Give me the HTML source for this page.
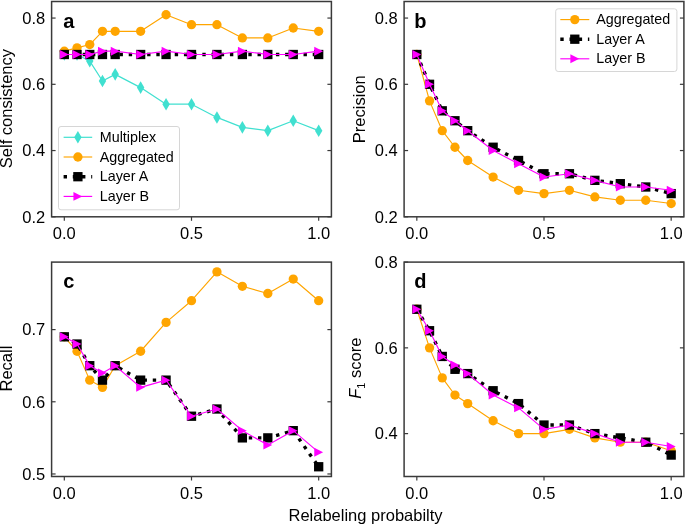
<!DOCTYPE html>
<html><head><meta charset="utf-8"><style>
html,body{margin:0;padding:0;background:#fff;}
svg{display:block;will-change:transform;}
</style></head><body>
<svg width="685" height="525" viewBox="0 0 685 525">
<rect width="685" height="525" fill="#fff"/>
<g>
<clipPath id="clipa"><rect x="51.60" y="1.50" width="279.80" height="215.30"/></clipPath>
<g clip-path="url(#clipa)">
<polyline points="64.32,54.50 77.04,54.50 89.75,61.12 102.47,81.00 115.19,74.37 140.63,87.62 166.06,104.18 191.50,104.18 216.94,117.43 242.37,127.37 267.81,130.68 293.25,120.74 318.68,130.68" fill="none" stroke="#40E0D0" stroke-width="1.2" stroke-linejoin="round"/>
<path d="M64.32,48.20 L68.02,54.50 L64.32,60.80 L60.62,54.50 Z" fill="#40E0D0"/>
<path d="M77.04,48.20 L80.74,54.50 L77.04,60.80 L73.34,54.50 Z" fill="#40E0D0"/>
<path d="M89.75,54.82 L93.45,61.12 L89.75,67.42 L86.05,61.12 Z" fill="#40E0D0"/>
<path d="M102.47,74.70 L106.17,81.00 L102.47,87.30 L98.77,81.00 Z" fill="#40E0D0"/>
<path d="M115.19,68.07 L118.89,74.37 L115.19,80.67 L111.49,74.37 Z" fill="#40E0D0"/>
<path d="M140.63,81.32 L144.33,87.62 L140.63,93.92 L136.93,87.62 Z" fill="#40E0D0"/>
<path d="M166.06,97.88 L169.76,104.18 L166.06,110.48 L162.36,104.18 Z" fill="#40E0D0"/>
<path d="M191.50,97.88 L195.20,104.18 L191.50,110.48 L187.80,104.18 Z" fill="#40E0D0"/>
<path d="M216.94,111.13 L220.64,117.43 L216.94,123.73 L213.24,117.43 Z" fill="#40E0D0"/>
<path d="M242.37,121.07 L246.07,127.37 L242.37,133.67 L238.67,127.37 Z" fill="#40E0D0"/>
<path d="M267.81,124.38 L271.51,130.68 L267.81,136.98 L264.11,130.68 Z" fill="#40E0D0"/>
<path d="M293.25,114.44 L296.95,120.74 L293.25,127.04 L289.55,120.74 Z" fill="#40E0D0"/>
<path d="M318.68,124.38 L322.38,130.68 L318.68,136.98 L314.98,130.68 Z" fill="#40E0D0"/>
<polyline points="64.32,51.18 77.04,47.87 89.75,44.56 102.47,31.31 115.19,31.31 140.63,31.31 166.06,14.75 191.50,24.69 216.94,24.69 242.37,37.94 267.81,37.94 293.25,28.00 318.68,31.31" fill="none" stroke="#FFA500" stroke-width="1.15" stroke-linejoin="round"/>
<circle cx="64.32" cy="51.18" r="4.65" fill="#FFA500"/>
<circle cx="77.04" cy="47.87" r="4.65" fill="#FFA500"/>
<circle cx="89.75" cy="44.56" r="4.65" fill="#FFA500"/>
<circle cx="102.47" cy="31.31" r="4.65" fill="#FFA500"/>
<circle cx="115.19" cy="31.31" r="4.65" fill="#FFA500"/>
<circle cx="140.63" cy="31.31" r="4.65" fill="#FFA500"/>
<circle cx="166.06" cy="14.75" r="4.65" fill="#FFA500"/>
<circle cx="191.50" cy="24.69" r="4.65" fill="#FFA500"/>
<circle cx="216.94" cy="24.69" r="4.65" fill="#FFA500"/>
<circle cx="242.37" cy="37.94" r="4.65" fill="#FFA500"/>
<circle cx="267.81" cy="37.94" r="4.65" fill="#FFA500"/>
<circle cx="293.25" cy="28.00" r="4.65" fill="#FFA500"/>
<circle cx="318.68" cy="31.31" r="4.65" fill="#FFA500"/>
<polyline points="64.32,54.50 77.04,54.50 89.75,54.50 102.47,54.50 115.19,54.50 140.63,54.50 166.06,54.50 191.50,54.50 216.94,54.50 242.37,54.50 267.81,54.50 293.25,54.50 318.68,54.50" fill="none" stroke="#000000" stroke-width="3.4" stroke-linejoin="round" stroke-dasharray="3.4 5.8"/>
<rect x="59.67" y="49.85" width="9.30" height="9.30" fill="#000000"/>
<rect x="72.39" y="49.85" width="9.30" height="9.30" fill="#000000"/>
<rect x="85.10" y="49.85" width="9.30" height="9.30" fill="#000000"/>
<rect x="97.82" y="49.85" width="9.30" height="9.30" fill="#000000"/>
<rect x="110.54" y="49.85" width="9.30" height="9.30" fill="#000000"/>
<rect x="135.98" y="49.85" width="9.30" height="9.30" fill="#000000"/>
<rect x="161.41" y="49.85" width="9.30" height="9.30" fill="#000000"/>
<rect x="186.85" y="49.85" width="9.30" height="9.30" fill="#000000"/>
<rect x="212.29" y="49.85" width="9.30" height="9.30" fill="#000000"/>
<rect x="237.72" y="49.85" width="9.30" height="9.30" fill="#000000"/>
<rect x="263.16" y="49.85" width="9.30" height="9.30" fill="#000000"/>
<rect x="288.60" y="49.85" width="9.30" height="9.30" fill="#000000"/>
<rect x="314.03" y="49.85" width="9.30" height="9.30" fill="#000000"/>
<polyline points="64.32,54.50 77.04,54.50 89.75,54.50 102.47,51.18 115.19,51.18 140.63,54.50 166.06,51.18 191.50,54.50 216.94,54.50 242.37,51.18 267.81,54.50 293.25,54.50 318.68,51.18" fill="none" stroke="#FF00FF" stroke-width="1.15" stroke-linejoin="round"/>
<path d="M68.77,54.50 L59.87,50.05 L59.87,58.95 Z" fill="#FF00FF"/>
<path d="M81.49,54.50 L72.59,50.05 L72.59,58.95 Z" fill="#FF00FF"/>
<path d="M94.20,54.50 L85.30,50.05 L85.30,58.95 Z" fill="#FF00FF"/>
<path d="M106.92,51.18 L98.02,46.73 L98.02,55.63 Z" fill="#FF00FF"/>
<path d="M119.64,51.18 L110.74,46.73 L110.74,55.63 Z" fill="#FF00FF"/>
<path d="M145.08,54.50 L136.18,50.05 L136.18,58.95 Z" fill="#FF00FF"/>
<path d="M170.51,51.18 L161.61,46.73 L161.61,55.63 Z" fill="#FF00FF"/>
<path d="M195.95,54.50 L187.05,50.05 L187.05,58.95 Z" fill="#FF00FF"/>
<path d="M221.39,54.50 L212.49,50.05 L212.49,58.95 Z" fill="#FF00FF"/>
<path d="M246.82,51.18 L237.92,46.73 L237.92,55.63 Z" fill="#FF00FF"/>
<path d="M272.26,54.50 L263.36,50.05 L263.36,58.95 Z" fill="#FF00FF"/>
<path d="M297.70,54.50 L288.80,50.05 L288.80,58.95 Z" fill="#FF00FF"/>
<path d="M323.13,51.18 L314.23,46.73 L314.23,55.63 Z" fill="#FF00FF"/>
</g>
<rect x="51.60" y="1.50" width="279.80" height="215.30" fill="none" stroke="#3a3a3a" stroke-width="1.5"/>
<line x1="51.60" y1="216.80" x2="55.60" y2="216.80" stroke="#3a3a3a" stroke-width="1.2"/>
<line x1="331.40" y1="216.80" x2="327.40" y2="216.80" stroke="#3a3a3a" stroke-width="1.2"/>
<text x="45.30" y="222.55" text-anchor="end" style="font-family:'Liberation Sans',sans-serif;font-size:16.5px">0.2</text>
<line x1="51.60" y1="150.55" x2="55.60" y2="150.55" stroke="#3a3a3a" stroke-width="1.2"/>
<line x1="331.40" y1="150.55" x2="327.40" y2="150.55" stroke="#3a3a3a" stroke-width="1.2"/>
<text x="45.30" y="156.30" text-anchor="end" style="font-family:'Liberation Sans',sans-serif;font-size:16.5px">0.4</text>
<line x1="51.60" y1="84.31" x2="55.60" y2="84.31" stroke="#3a3a3a" stroke-width="1.2"/>
<line x1="331.40" y1="84.31" x2="327.40" y2="84.31" stroke="#3a3a3a" stroke-width="1.2"/>
<text x="45.30" y="90.06" text-anchor="end" style="font-family:'Liberation Sans',sans-serif;font-size:16.5px">0.6</text>
<line x1="51.60" y1="18.06" x2="55.60" y2="18.06" stroke="#3a3a3a" stroke-width="1.2"/>
<line x1="331.40" y1="18.06" x2="327.40" y2="18.06" stroke="#3a3a3a" stroke-width="1.2"/>
<text x="45.30" y="23.81" text-anchor="end" style="font-family:'Liberation Sans',sans-serif;font-size:16.5px">0.8</text>
<line x1="64.32" y1="216.80" x2="64.32" y2="220.80" stroke="#3a3a3a" stroke-width="1.2"/>
<text x="64.32" y="239.00" text-anchor="middle" style="font-family:'Liberation Sans',sans-serif;font-size:16.5px">0.0</text>
<line x1="191.50" y1="216.80" x2="191.50" y2="220.80" stroke="#3a3a3a" stroke-width="1.2"/>
<text x="191.50" y="239.00" text-anchor="middle" style="font-family:'Liberation Sans',sans-serif;font-size:16.5px">0.5</text>
<line x1="318.68" y1="216.80" x2="318.68" y2="220.80" stroke="#3a3a3a" stroke-width="1.2"/>
<text x="318.68" y="239.00" text-anchor="middle" style="font-family:'Liberation Sans',sans-serif;font-size:16.5px">1.0</text>
</g>
<g>
<clipPath id="clipb"><rect x="404.10" y="1.50" width="279.80" height="215.30"/></clipPath>
<g clip-path="url(#clipb)">
<polyline points="416.82,54.50 429.54,100.87 442.25,130.68 454.97,147.24 467.69,160.49 493.13,177.05 518.56,190.30 544.00,193.61 569.44,190.30 594.87,196.93 620.31,200.24 645.75,200.24 671.18,203.55" fill="none" stroke="#FFA500" stroke-width="1.15" stroke-linejoin="round"/>
<circle cx="416.82" cy="54.50" r="4.65" fill="#FFA500"/>
<circle cx="429.54" cy="100.87" r="4.65" fill="#FFA500"/>
<circle cx="442.25" cy="130.68" r="4.65" fill="#FFA500"/>
<circle cx="454.97" cy="147.24" r="4.65" fill="#FFA500"/>
<circle cx="467.69" cy="160.49" r="4.65" fill="#FFA500"/>
<circle cx="493.13" cy="177.05" r="4.65" fill="#FFA500"/>
<circle cx="518.56" cy="190.30" r="4.65" fill="#FFA500"/>
<circle cx="544.00" cy="193.61" r="4.65" fill="#FFA500"/>
<circle cx="569.44" cy="190.30" r="4.65" fill="#FFA500"/>
<circle cx="594.87" cy="196.93" r="4.65" fill="#FFA500"/>
<circle cx="620.31" cy="200.24" r="4.65" fill="#FFA500"/>
<circle cx="645.75" cy="200.24" r="4.65" fill="#FFA500"/>
<circle cx="671.18" cy="203.55" r="4.65" fill="#FFA500"/>
<polyline points="416.82,54.50 429.54,84.31 442.25,110.81 454.97,120.74 467.69,130.68 493.13,147.24 518.56,160.49 544.00,173.74 569.44,173.74 594.87,180.36 620.31,183.68 645.75,186.99 671.18,193.61" fill="none" stroke="#000000" stroke-width="3.4" stroke-linejoin="round" stroke-dasharray="3.4 5.8"/>
<rect x="412.17" y="49.85" width="9.30" height="9.30" fill="#000000"/>
<rect x="424.89" y="79.66" width="9.30" height="9.30" fill="#000000"/>
<rect x="437.60" y="106.16" width="9.30" height="9.30" fill="#000000"/>
<rect x="450.32" y="116.09" width="9.30" height="9.30" fill="#000000"/>
<rect x="463.04" y="126.03" width="9.30" height="9.30" fill="#000000"/>
<rect x="488.48" y="142.59" width="9.30" height="9.30" fill="#000000"/>
<rect x="513.91" y="155.84" width="9.30" height="9.30" fill="#000000"/>
<rect x="539.35" y="169.09" width="9.30" height="9.30" fill="#000000"/>
<rect x="564.79" y="169.09" width="9.30" height="9.30" fill="#000000"/>
<rect x="590.22" y="175.71" width="9.30" height="9.30" fill="#000000"/>
<rect x="615.66" y="179.03" width="9.30" height="9.30" fill="#000000"/>
<rect x="641.10" y="182.34" width="9.30" height="9.30" fill="#000000"/>
<rect x="666.53" y="188.96" width="9.30" height="9.30" fill="#000000"/>
<polyline points="416.82,54.50 429.54,84.31 442.25,110.81 454.97,120.74 467.69,130.68 493.13,150.55 518.56,163.80 544.00,177.05 569.44,173.74 594.87,180.36 620.31,186.99 645.75,186.99 671.18,190.30" fill="none" stroke="#FF00FF" stroke-width="1.15" stroke-linejoin="round"/>
<path d="M421.27,54.50 L412.37,50.05 L412.37,58.95 Z" fill="#FF00FF"/>
<path d="M433.99,84.31 L425.09,79.86 L425.09,88.76 Z" fill="#FF00FF"/>
<path d="M446.70,110.81 L437.80,106.36 L437.80,115.26 Z" fill="#FF00FF"/>
<path d="M459.42,120.74 L450.52,116.29 L450.52,125.19 Z" fill="#FF00FF"/>
<path d="M472.14,130.68 L463.24,126.23 L463.24,135.13 Z" fill="#FF00FF"/>
<path d="M497.58,150.55 L488.68,146.10 L488.68,155.00 Z" fill="#FF00FF"/>
<path d="M523.01,163.80 L514.11,159.35 L514.11,168.25 Z" fill="#FF00FF"/>
<path d="M548.45,177.05 L539.55,172.60 L539.55,181.50 Z" fill="#FF00FF"/>
<path d="M573.89,173.74 L564.99,169.29 L564.99,178.19 Z" fill="#FF00FF"/>
<path d="M599.32,180.36 L590.42,175.91 L590.42,184.81 Z" fill="#FF00FF"/>
<path d="M624.76,186.99 L615.86,182.54 L615.86,191.44 Z" fill="#FF00FF"/>
<path d="M650.20,186.99 L641.30,182.54 L641.30,191.44 Z" fill="#FF00FF"/>
<path d="M675.63,190.30 L666.73,185.85 L666.73,194.75 Z" fill="#FF00FF"/>
</g>
<rect x="404.10" y="1.50" width="279.80" height="215.30" fill="none" stroke="#3a3a3a" stroke-width="1.5"/>
<line x1="404.10" y1="216.80" x2="408.10" y2="216.80" stroke="#3a3a3a" stroke-width="1.2"/>
<line x1="683.90" y1="216.80" x2="679.90" y2="216.80" stroke="#3a3a3a" stroke-width="1.2"/>
<text x="397.80" y="222.55" text-anchor="end" style="font-family:'Liberation Sans',sans-serif;font-size:16.5px">0.2</text>
<line x1="404.10" y1="150.55" x2="408.10" y2="150.55" stroke="#3a3a3a" stroke-width="1.2"/>
<line x1="683.90" y1="150.55" x2="679.90" y2="150.55" stroke="#3a3a3a" stroke-width="1.2"/>
<text x="397.80" y="156.30" text-anchor="end" style="font-family:'Liberation Sans',sans-serif;font-size:16.5px">0.4</text>
<line x1="404.10" y1="84.31" x2="408.10" y2="84.31" stroke="#3a3a3a" stroke-width="1.2"/>
<line x1="683.90" y1="84.31" x2="679.90" y2="84.31" stroke="#3a3a3a" stroke-width="1.2"/>
<text x="397.80" y="90.06" text-anchor="end" style="font-family:'Liberation Sans',sans-serif;font-size:16.5px">0.6</text>
<line x1="404.10" y1="18.06" x2="408.10" y2="18.06" stroke="#3a3a3a" stroke-width="1.2"/>
<line x1="683.90" y1="18.06" x2="679.90" y2="18.06" stroke="#3a3a3a" stroke-width="1.2"/>
<text x="397.80" y="23.81" text-anchor="end" style="font-family:'Liberation Sans',sans-serif;font-size:16.5px">0.8</text>
<line x1="416.82" y1="216.80" x2="416.82" y2="220.80" stroke="#3a3a3a" stroke-width="1.2"/>
<text x="416.82" y="239.00" text-anchor="middle" style="font-family:'Liberation Sans',sans-serif;font-size:16.5px">0.0</text>
<line x1="544.00" y1="216.80" x2="544.00" y2="220.80" stroke="#3a3a3a" stroke-width="1.2"/>
<text x="544.00" y="239.00" text-anchor="middle" style="font-family:'Liberation Sans',sans-serif;font-size:16.5px">0.5</text>
<line x1="671.18" y1="216.80" x2="671.18" y2="220.80" stroke="#3a3a3a" stroke-width="1.2"/>
<text x="671.18" y="239.00" text-anchor="middle" style="font-family:'Liberation Sans',sans-serif;font-size:16.5px">1.0</text>
</g>
<g>
<clipPath id="clipc"><rect x="51.60" y="262.10" width="279.80" height="214.40"/></clipPath>
<g clip-path="url(#clipc)">
<polyline points="64.32,336.82 77.04,351.25 89.75,380.13 102.47,387.35 115.19,365.69 140.63,351.25 166.06,322.38 191.50,300.72 216.94,271.85 242.37,286.28 267.81,293.50 293.25,279.06 318.68,300.72" fill="none" stroke="#FFA500" stroke-width="1.15" stroke-linejoin="round"/>
<circle cx="64.32" cy="336.82" r="4.65" fill="#FFA500"/>
<circle cx="77.04" cy="351.25" r="4.65" fill="#FFA500"/>
<circle cx="89.75" cy="380.13" r="4.65" fill="#FFA500"/>
<circle cx="102.47" cy="387.35" r="4.65" fill="#FFA500"/>
<circle cx="115.19" cy="365.69" r="4.65" fill="#FFA500"/>
<circle cx="140.63" cy="351.25" r="4.65" fill="#FFA500"/>
<circle cx="166.06" cy="322.38" r="4.65" fill="#FFA500"/>
<circle cx="191.50" cy="300.72" r="4.65" fill="#FFA500"/>
<circle cx="216.94" cy="271.85" r="4.65" fill="#FFA500"/>
<circle cx="242.37" cy="286.28" r="4.65" fill="#FFA500"/>
<circle cx="267.81" cy="293.50" r="4.65" fill="#FFA500"/>
<circle cx="293.25" cy="279.06" r="4.65" fill="#FFA500"/>
<circle cx="318.68" cy="300.72" r="4.65" fill="#FFA500"/>
<polyline points="64.32,336.82 77.04,344.03 89.75,365.69 102.47,380.13 115.19,365.69 140.63,380.13 166.06,380.13 191.50,416.22 216.94,409.00 242.37,437.88 267.81,437.88 293.25,430.66 318.68,466.75" fill="none" stroke="#000000" stroke-width="3.4" stroke-linejoin="round" stroke-dasharray="3.4 5.8"/>
<rect x="59.67" y="332.17" width="9.30" height="9.30" fill="#000000"/>
<rect x="72.39" y="339.38" width="9.30" height="9.30" fill="#000000"/>
<rect x="85.10" y="361.04" width="9.30" height="9.30" fill="#000000"/>
<rect x="97.82" y="375.48" width="9.30" height="9.30" fill="#000000"/>
<rect x="110.54" y="361.04" width="9.30" height="9.30" fill="#000000"/>
<rect x="135.98" y="375.48" width="9.30" height="9.30" fill="#000000"/>
<rect x="161.41" y="375.48" width="9.30" height="9.30" fill="#000000"/>
<rect x="186.85" y="411.57" width="9.30" height="9.30" fill="#000000"/>
<rect x="212.29" y="404.35" width="9.30" height="9.30" fill="#000000"/>
<rect x="237.72" y="433.23" width="9.30" height="9.30" fill="#000000"/>
<rect x="263.16" y="433.23" width="9.30" height="9.30" fill="#000000"/>
<rect x="288.60" y="426.01" width="9.30" height="9.30" fill="#000000"/>
<rect x="314.03" y="462.10" width="9.30" height="9.30" fill="#000000"/>
<polyline points="64.32,336.82 77.04,344.03 89.75,365.69 102.47,372.91 115.19,365.69 140.63,387.35 166.06,380.13 191.50,416.22 216.94,409.00 242.37,430.66 267.81,445.10 293.25,430.66 318.68,452.32" fill="none" stroke="#FF00FF" stroke-width="1.15" stroke-linejoin="round"/>
<path d="M68.77,336.82 L59.87,332.37 L59.87,341.27 Z" fill="#FF00FF"/>
<path d="M81.49,344.03 L72.59,339.58 L72.59,348.48 Z" fill="#FF00FF"/>
<path d="M94.20,365.69 L85.30,361.24 L85.30,370.14 Z" fill="#FF00FF"/>
<path d="M106.92,372.91 L98.02,368.46 L98.02,377.36 Z" fill="#FF00FF"/>
<path d="M119.64,365.69 L110.74,361.24 L110.74,370.14 Z" fill="#FF00FF"/>
<path d="M145.08,387.35 L136.18,382.90 L136.18,391.80 Z" fill="#FF00FF"/>
<path d="M170.51,380.13 L161.61,375.68 L161.61,384.58 Z" fill="#FF00FF"/>
<path d="M195.95,416.22 L187.05,411.77 L187.05,420.67 Z" fill="#FF00FF"/>
<path d="M221.39,409.00 L212.49,404.55 L212.49,413.45 Z" fill="#FF00FF"/>
<path d="M246.82,430.66 L237.92,426.21 L237.92,435.11 Z" fill="#FF00FF"/>
<path d="M272.26,445.10 L263.36,440.65 L263.36,449.55 Z" fill="#FF00FF"/>
<path d="M297.70,430.66 L288.80,426.21 L288.80,435.11 Z" fill="#FF00FF"/>
<path d="M323.13,452.32 L314.23,447.87 L314.23,456.77 Z" fill="#FF00FF"/>
</g>
<rect x="51.60" y="262.10" width="279.80" height="214.40" fill="none" stroke="#3a3a3a" stroke-width="1.5"/>
<line x1="51.60" y1="473.97" x2="55.60" y2="473.97" stroke="#3a3a3a" stroke-width="1.2"/>
<line x1="331.40" y1="473.97" x2="327.40" y2="473.97" stroke="#3a3a3a" stroke-width="1.2"/>
<text x="45.30" y="479.72" text-anchor="end" style="font-family:'Liberation Sans',sans-serif;font-size:16.5px">0.5</text>
<line x1="51.60" y1="401.78" x2="55.60" y2="401.78" stroke="#3a3a3a" stroke-width="1.2"/>
<line x1="331.40" y1="401.78" x2="327.40" y2="401.78" stroke="#3a3a3a" stroke-width="1.2"/>
<text x="45.30" y="407.53" text-anchor="end" style="font-family:'Liberation Sans',sans-serif;font-size:16.5px">0.6</text>
<line x1="51.60" y1="329.60" x2="55.60" y2="329.60" stroke="#3a3a3a" stroke-width="1.2"/>
<line x1="331.40" y1="329.60" x2="327.40" y2="329.60" stroke="#3a3a3a" stroke-width="1.2"/>
<text x="45.30" y="335.35" text-anchor="end" style="font-family:'Liberation Sans',sans-serif;font-size:16.5px">0.7</text>
<line x1="64.32" y1="476.50" x2="64.32" y2="480.50" stroke="#3a3a3a" stroke-width="1.2"/>
<text x="64.32" y="498.70" text-anchor="middle" style="font-family:'Liberation Sans',sans-serif;font-size:16.5px">0.0</text>
<line x1="191.50" y1="476.50" x2="191.50" y2="480.50" stroke="#3a3a3a" stroke-width="1.2"/>
<text x="191.50" y="498.70" text-anchor="middle" style="font-family:'Liberation Sans',sans-serif;font-size:16.5px">0.5</text>
<line x1="318.68" y1="476.50" x2="318.68" y2="480.50" stroke="#3a3a3a" stroke-width="1.2"/>
<text x="318.68" y="498.70" text-anchor="middle" style="font-family:'Liberation Sans',sans-serif;font-size:16.5px">1.0</text>
</g>
<g>
<clipPath id="clipd"><rect x="404.10" y="262.10" width="279.80" height="214.40"/></clipPath>
<g clip-path="url(#clipd)">
<polyline points="416.82,309.27 429.54,347.86 442.25,377.88 454.97,395.03 467.69,403.60 493.13,420.76 518.56,433.62 544.00,433.62 569.44,429.33 594.87,437.91 620.31,442.20 645.75,442.20 671.18,450.77" fill="none" stroke="#FFA500" stroke-width="1.15" stroke-linejoin="round"/>
<circle cx="416.82" cy="309.27" r="4.65" fill="#FFA500"/>
<circle cx="429.54" cy="347.86" r="4.65" fill="#FFA500"/>
<circle cx="442.25" cy="377.88" r="4.65" fill="#FFA500"/>
<circle cx="454.97" cy="395.03" r="4.65" fill="#FFA500"/>
<circle cx="467.69" cy="403.60" r="4.65" fill="#FFA500"/>
<circle cx="493.13" cy="420.76" r="4.65" fill="#FFA500"/>
<circle cx="518.56" cy="433.62" r="4.65" fill="#FFA500"/>
<circle cx="544.00" cy="433.62" r="4.65" fill="#FFA500"/>
<circle cx="569.44" cy="429.33" r="4.65" fill="#FFA500"/>
<circle cx="594.87" cy="437.91" r="4.65" fill="#FFA500"/>
<circle cx="620.31" cy="442.20" r="4.65" fill="#FFA500"/>
<circle cx="645.75" cy="442.20" r="4.65" fill="#FFA500"/>
<circle cx="671.18" cy="450.77" r="4.65" fill="#FFA500"/>
<polyline points="416.82,309.27 429.54,330.71 442.25,356.44 454.97,369.30 467.69,373.59 493.13,390.74 518.56,403.60 544.00,425.04 569.44,425.04 594.87,433.62 620.31,437.91 645.75,442.20 671.18,455.06" fill="none" stroke="#000000" stroke-width="3.4" stroke-linejoin="round" stroke-dasharray="3.4 5.8"/>
<rect x="412.17" y="304.62" width="9.30" height="9.30" fill="#000000"/>
<rect x="424.89" y="326.06" width="9.30" height="9.30" fill="#000000"/>
<rect x="437.60" y="351.79" width="9.30" height="9.30" fill="#000000"/>
<rect x="450.32" y="364.65" width="9.30" height="9.30" fill="#000000"/>
<rect x="463.04" y="368.94" width="9.30" height="9.30" fill="#000000"/>
<rect x="488.48" y="386.09" width="9.30" height="9.30" fill="#000000"/>
<rect x="513.91" y="398.95" width="9.30" height="9.30" fill="#000000"/>
<rect x="539.35" y="420.39" width="9.30" height="9.30" fill="#000000"/>
<rect x="564.79" y="420.39" width="9.30" height="9.30" fill="#000000"/>
<rect x="590.22" y="428.97" width="9.30" height="9.30" fill="#000000"/>
<rect x="615.66" y="433.26" width="9.30" height="9.30" fill="#000000"/>
<rect x="641.10" y="437.55" width="9.30" height="9.30" fill="#000000"/>
<rect x="666.53" y="450.41" width="9.30" height="9.30" fill="#000000"/>
<polyline points="416.82,309.27 429.54,330.71 442.25,356.44 454.97,365.01 467.69,373.59 493.13,395.03 518.56,407.89 544.00,429.33 569.44,425.04 594.87,433.62 620.31,442.20 645.75,442.20 671.18,446.48" fill="none" stroke="#FF00FF" stroke-width="1.15" stroke-linejoin="round"/>
<path d="M421.27,309.27 L412.37,304.82 L412.37,313.72 Z" fill="#FF00FF"/>
<path d="M433.99,330.71 L425.09,326.26 L425.09,335.16 Z" fill="#FF00FF"/>
<path d="M446.70,356.44 L437.80,351.99 L437.80,360.89 Z" fill="#FF00FF"/>
<path d="M459.42,365.01 L450.52,360.56 L450.52,369.46 Z" fill="#FF00FF"/>
<path d="M472.14,373.59 L463.24,369.14 L463.24,378.04 Z" fill="#FF00FF"/>
<path d="M497.58,395.03 L488.68,390.58 L488.68,399.48 Z" fill="#FF00FF"/>
<path d="M523.01,407.89 L514.11,403.44 L514.11,412.34 Z" fill="#FF00FF"/>
<path d="M548.45,429.33 L539.55,424.88 L539.55,433.78 Z" fill="#FF00FF"/>
<path d="M573.89,425.04 L564.99,420.59 L564.99,429.49 Z" fill="#FF00FF"/>
<path d="M599.32,433.62 L590.42,429.17 L590.42,438.07 Z" fill="#FF00FF"/>
<path d="M624.76,442.20 L615.86,437.75 L615.86,446.65 Z" fill="#FF00FF"/>
<path d="M650.20,442.20 L641.30,437.75 L641.30,446.65 Z" fill="#FF00FF"/>
<path d="M675.63,446.48 L666.73,442.03 L666.73,450.93 Z" fill="#FF00FF"/>
</g>
<rect x="404.10" y="262.10" width="279.80" height="214.40" fill="none" stroke="#3a3a3a" stroke-width="1.5"/>
<line x1="404.10" y1="433.62" x2="408.10" y2="433.62" stroke="#3a3a3a" stroke-width="1.2"/>
<line x1="683.90" y1="433.62" x2="679.90" y2="433.62" stroke="#3a3a3a" stroke-width="1.2"/>
<text x="397.80" y="439.37" text-anchor="end" style="font-family:'Liberation Sans',sans-serif;font-size:16.5px">0.4</text>
<line x1="404.10" y1="347.86" x2="408.10" y2="347.86" stroke="#3a3a3a" stroke-width="1.2"/>
<line x1="683.90" y1="347.86" x2="679.90" y2="347.86" stroke="#3a3a3a" stroke-width="1.2"/>
<text x="397.80" y="353.61" text-anchor="end" style="font-family:'Liberation Sans',sans-serif;font-size:16.5px">0.6</text>
<line x1="404.10" y1="262.10" x2="408.10" y2="262.10" stroke="#3a3a3a" stroke-width="1.2"/>
<line x1="683.90" y1="262.10" x2="679.90" y2="262.10" stroke="#3a3a3a" stroke-width="1.2"/>
<text x="397.80" y="267.85" text-anchor="end" style="font-family:'Liberation Sans',sans-serif;font-size:16.5px">0.8</text>
<line x1="416.82" y1="476.50" x2="416.82" y2="480.50" stroke="#3a3a3a" stroke-width="1.2"/>
<text x="416.82" y="498.70" text-anchor="middle" style="font-family:'Liberation Sans',sans-serif;font-size:16.5px">0.0</text>
<line x1="544.00" y1="476.50" x2="544.00" y2="480.50" stroke="#3a3a3a" stroke-width="1.2"/>
<text x="544.00" y="498.70" text-anchor="middle" style="font-family:'Liberation Sans',sans-serif;font-size:16.5px">0.5</text>
<line x1="671.18" y1="476.50" x2="671.18" y2="480.50" stroke="#3a3a3a" stroke-width="1.2"/>
<text x="671.18" y="498.70" text-anchor="middle" style="font-family:'Liberation Sans',sans-serif;font-size:16.5px">1.0</text>
</g>
<text x="63.3" y="27.9" style="font-family:'Liberation Sans',sans-serif;font-size:20px;font-weight:bold">a</text>
<text x="414.3" y="28.3" style="font-family:'Liberation Sans',sans-serif;font-size:20px;font-weight:bold">b</text>
<text x="63.3" y="288.2" style="font-family:'Liberation Sans',sans-serif;font-size:20px;font-weight:bold">c</text>
<text x="414.3" y="287.8" style="font-family:'Liberation Sans',sans-serif;font-size:20px;font-weight:bold">d</text>
<text transform="translate(12.3,108.6) rotate(-90)" text-anchor="middle" style="font-family:'Liberation Sans',sans-serif;font-size:16.5px">Self consistency</text>
<text transform="translate(365,109.2) rotate(-90)" text-anchor="middle" style="font-family:'Liberation Sans',sans-serif;font-size:16.5px">Precision</text>
<text transform="translate(11.9,368.6) rotate(-90)" text-anchor="middle" style="font-family:'Liberation Sans',sans-serif;font-size:16.5px">Recall</text>
<text transform="translate(360.6,368.2) rotate(-90)" text-anchor="middle" style="font-family:'Liberation Sans',sans-serif;font-size:16.5px"><tspan font-style="italic">F</tspan><tspan font-size="11px" dy="4">1</tspan><tspan dy="-4"> score</tspan></text>
<text x="288.5" y="520.8" style="font-family:'Liberation Sans',sans-serif;font-size:16.5px">Relabeling probabilty</text>
<rect x="58.50" y="126.50" width="121.00" height="83.30" rx="2.5" fill="#fff" fill-opacity="0.85" stroke="#d6d6d6" stroke-width="1"/>
<line x1="63.60" y1="137.30" x2="92.20" y2="137.30" stroke="#40E0D0" stroke-width="1.2"/>
<path d="M77.90,131.00 L81.60,137.30 L77.90,143.60 L74.20,137.30 Z" fill="#40E0D0"/>
<text x="99.80" y="141.90" style="font-family:'Liberation Sans',sans-serif;font-size:14.3px">Multiplex</text>
<line x1="63.60" y1="157.00" x2="92.20" y2="157.00" stroke="#FFA500" stroke-width="1.15"/>
<circle cx="77.90" cy="157.00" r="4.65" fill="#FFA500"/>
<text x="99.80" y="161.60" style="font-family:'Liberation Sans',sans-serif;font-size:14.3px">Aggregated</text>
<line x1="63.60" y1="176.70" x2="92.20" y2="176.70" stroke="#000000" stroke-width="3.4" stroke-dasharray="3.4 5.8"/>
<rect x="73.25" y="172.05" width="9.30" height="9.30" fill="#000000"/>
<text x="99.80" y="181.30" style="font-family:'Liberation Sans',sans-serif;font-size:14.3px">Layer A</text>
<line x1="63.60" y1="196.40" x2="92.20" y2="196.40" stroke="#FF00FF" stroke-width="1.15"/>
<path d="M82.35,196.40 L73.45,191.95 L73.45,200.85 Z" fill="#FF00FF"/>
<text x="99.80" y="201.00" style="font-family:'Liberation Sans',sans-serif;font-size:14.3px">Layer B</text>
<rect x="555.70" y="8.80" width="121.20" height="62.70" rx="2.5" fill="#fff" fill-opacity="0.85" stroke="#d6d6d6" stroke-width="1"/>
<line x1="560.30" y1="19.60" x2="589.30" y2="19.60" stroke="#FFA500" stroke-width="1.15"/>
<circle cx="574.80" cy="19.60" r="4.65" fill="#FFA500"/>
<text x="596.30" y="24.20" style="font-family:'Liberation Sans',sans-serif;font-size:14.3px">Aggregated</text>
<line x1="560.30" y1="39.20" x2="589.30" y2="39.20" stroke="#000000" stroke-width="3.4" stroke-dasharray="3.4 5.8"/>
<rect x="570.15" y="34.55" width="9.30" height="9.30" fill="#000000"/>
<text x="596.30" y="43.80" style="font-family:'Liberation Sans',sans-serif;font-size:14.3px">Layer A</text>
<line x1="560.30" y1="58.80" x2="589.30" y2="58.80" stroke="#FF00FF" stroke-width="1.15"/>
<path d="M579.25,58.80 L570.35,54.35 L570.35,63.25 Z" fill="#FF00FF"/>
<text x="596.30" y="63.40" style="font-family:'Liberation Sans',sans-serif;font-size:14.3px">Layer B</text>
</svg>
</body></html>
